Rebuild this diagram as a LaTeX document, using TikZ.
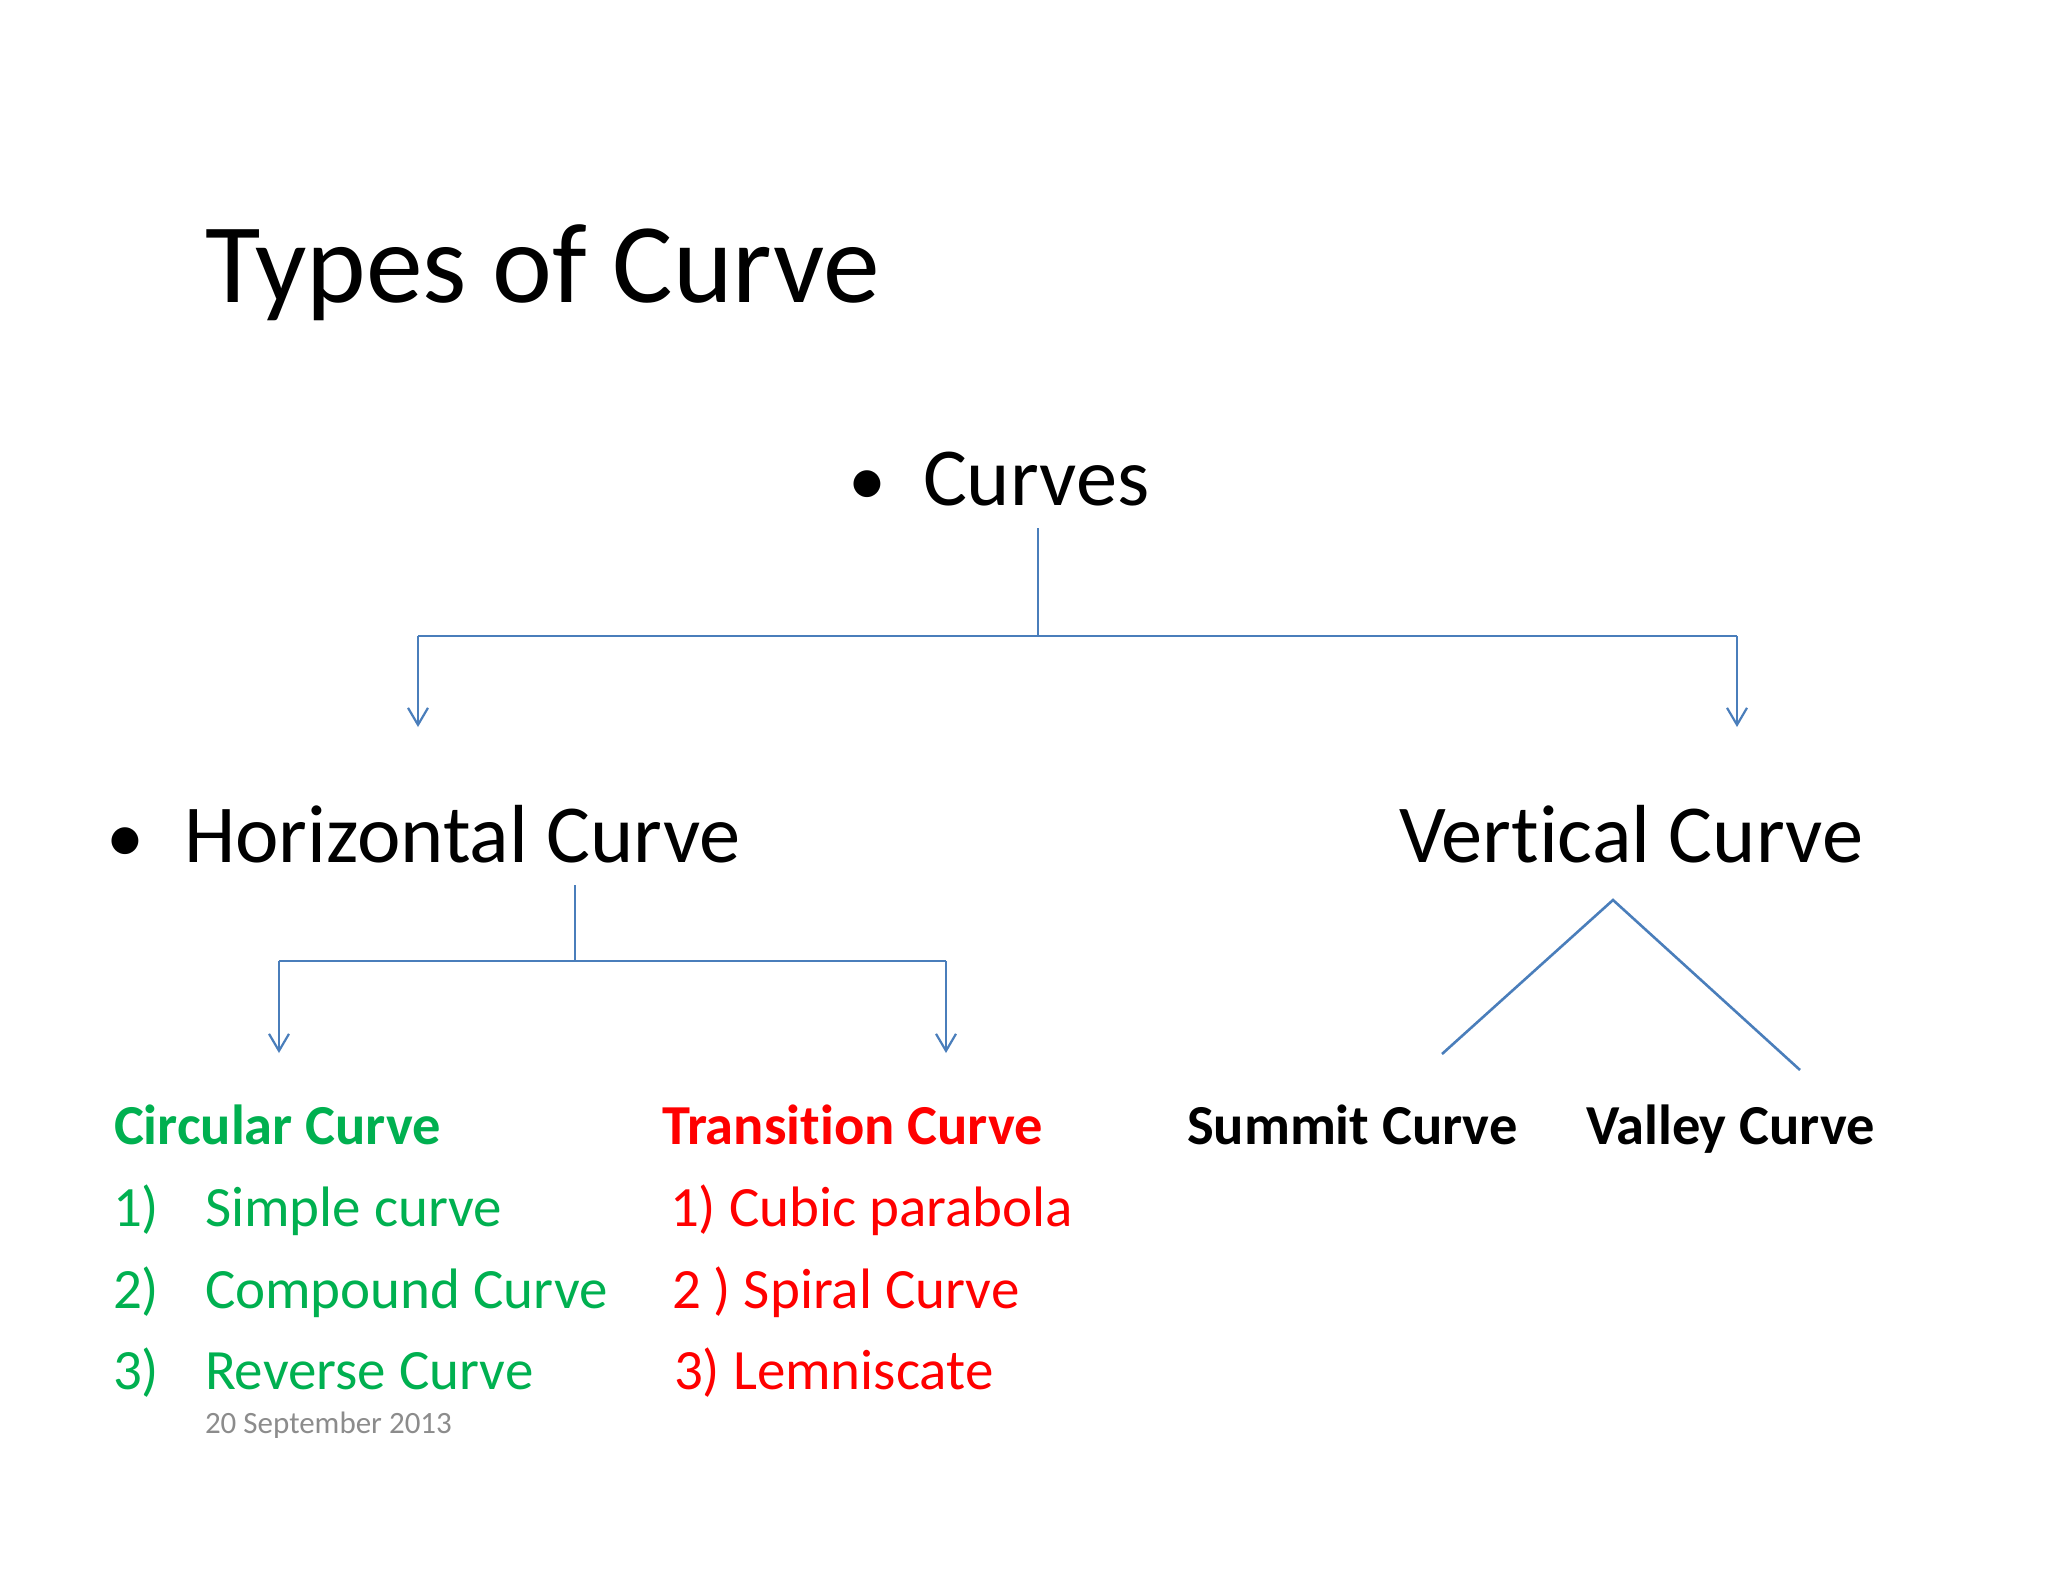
\documentclass[tikz,border=0pt]{standalone}
\usepackage{fontspec}
\setmainfont{Carlito}[RawFeature={-liga;-clig;-calt;-dlig}]
\usetikzlibrary{arrows.meta}
\definecolor{lineblue}{HTML}{4A7EBB}
\definecolor{cgreen}{HTML}{00B050}
\definecolor{cred}{HTML}{FF0000}
\definecolor{dategray}{HTML}{8C8C8C}
\tikzset{
  txt/.style={anchor=base west, inner sep=0pt, outer sep=0pt},
  bul/.style={anchor=base, inner sep=0pt, outer sep=0pt},
  title/.style={txt, font=\fontsize{113.5}{130}\selectfont},
  big/.style={txt, font=\fontsize{82.4}{95}\selectfont},
  bigbul/.style={bul, font=\fontsize{76}{95}\selectfont},
  head/.style={txt, font=\fontsize{56.5}{66}\selectfont\bfseries},
  item/.style={txt, font=\fontsize{57}{66}\selectfont},
  datetxt/.style={txt, font=\fontsize{31}{36}\selectfont, text=dategray},
  conn/.style={draw=lineblue, line width=2.6pt},
  arr/.style={conn, -{Straight Barb[length=17pt,width=20pt,line width=2.2pt]}}
}
\begin{document}
\begin{tikzpicture}[x=1pt,y=-1pt]
\fill[white] (0,0) rectangle (2048,1582);
\useasboundingbox (0,0) rectangle (2048,1582);

% title
\node[title] (title) at (205,302) {Types of Curve};

% level 1
\node[bigbul] (b1) at (867,505) {\textbullet};
\node[big] (curves) at (923,505) {Curves};

% level 2
\node[bigbul] (b2) at (125,862) {\textbullet};
\node[big] (horiz) at (184,862) {Horizontal Curve};
\node[big] (vert) at (1399,862) {Vertical Curve};

% connectors from Curves
\coordinate (c0) at (1038,528);
\coordinate (c1) at (1038,636);
\coordinate (cl) at (418,636);
\coordinate (cr) at (1737,636);
\coordinate (cla) at (418,727);
\coordinate (cra) at (1737,727);
\draw[conn] (c0) -- (c1);
\draw[conn] (cl) -- (cr);
\draw[arr] (cl) -- (cla);
\draw[arr] (cr) -- (cra);

% connectors from Horizontal Curve
\coordinate (h0) at (575,885);
\coordinate (h1) at (575,961);
\coordinate (hl) at (279,961);
\coordinate (hr) at (946,961);
\coordinate (hla) at (279,1053);
\coordinate (hra) at (946,1053);
\draw[conn] (h0) -- (h1);
\draw[conn] (hl) -- (hr);
\draw[arr] (hl) -- (hla);
\draw[arr] (hr) -- (hra);

% connectors from Vertical Curve
\coordinate (vtop) at (1613,900);
\coordinate (vl) at (1442,1054);
\coordinate (vr) at (1800,1070);
\draw[conn, line join=miter] (vl) -- (vtop) -- (vr);

% level 3: circular
\node[head, text=cgreen] (circ) at (114,1144) {Circular Curve};
\node[item, text=cgreen] (n1) at (113,1226) {1)};
\node[item, text=cgreen] (simple) at (205,1226) {Simple curve};
\node[item, text=cgreen] (n2) at (113,1308) {2)};
\node[item, text=cgreen] (compound) at (205,1308) {Compound Curve};
\node[item, text=cgreen] (n3) at (113,1389) {3)};
\node[item, text=cgreen] (reverse) at (205,1389) {Reverse Curve};
\node[datetxt] (date) at (205,1433) {20 September 2013};

% level 3: transition
\node[head, text=cred] (trans) at (662,1144) {Transition Curve};
\node[item, text=cred] (cubic) at (670,1226) {1) Cubic parabola};
\node[item, text=cred] (spiral) at (672,1308) {2 ) Spiral Curve};
\node[item, text=cred] (lemn) at (674,1389) {3) Lemniscate};

% level 3: vertical
\node[head] (summit) at (1187,1144) {Summit Curve};
\node[head] (valley) at (1586,1144) {Valley Curve};
\end{tikzpicture}
\end{document}
